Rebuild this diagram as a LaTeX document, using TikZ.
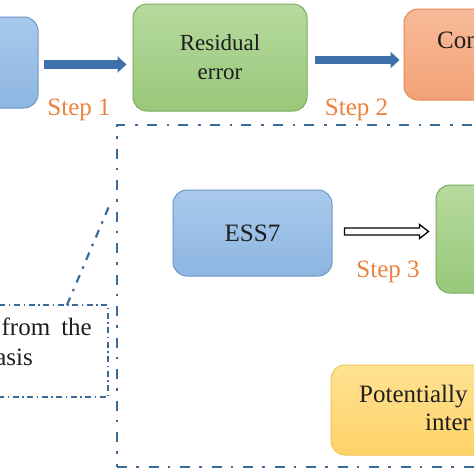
\documentclass[tikz,border=0pt]{standalone}
\usepackage{fontspec}
\setmainfont{Liberation Serif}
\usetikzlibrary{arrows.meta,calc}
\definecolor{txtc}{RGB}{30,30,30}
\definecolor{stepc}{RGB}{236,130,62}
\definecolor{dashc}{RGB}{62,108,152}
\definecolor{bluetop}{RGB}{168,201,236}
\definecolor{bluebot}{RGB}{142,182,226}
\definecolor{blueline}{RGB}{110,150,200}
\definecolor{greentop}{RGB}{182,218,158}
\definecolor{greenbot}{RGB}{152,200,122}
\definecolor{greenline}{RGB}{122,172,92}
\definecolor{orangetop}{RGB}{248,186,152}
\definecolor{orangebot}{RGB}{243,162,118}
\definecolor{orangeline}{RGB}{232,135,85}
\definecolor{yellowtop}{RGB}{255,226,145}
\definecolor{yellowbot}{RGB}{255,210,105}
\definecolor{yellowline}{RGB}{242,195,90}
\definecolor{arrowfill}{RGB}{62,112,172}
\tikzset{
  mybox/.style={rectangle, rounded corners=14pt, line width=1pt, inner sep=0pt,
    font=\rmfamily\fontsize{23}{29}\selectfont, text=txtc, align=center},
  bluebox/.style={mybox, draw=blueline, top color=bluetop, bottom color=bluebot},
  greenbox/.style={mybox, draw=greenline, top color=greentop, bottom color=greenbot},
  orangebox/.style={mybox, draw=orangeline, top color=orangetop, bottom color=orangebot},
  yellowbox/.style={mybox, draw=yellowline, top color=yellowtop, bottom color=yellowbot},
  txt/.style={inner sep=0pt, font=\rmfamily\fontsize{25}{29}\selectfont, text=txtc},
  steplbl/.style={inner sep=0pt, font=\rmfamily\fontsize{25}{29}\selectfont, text=stepc, anchor=base},
  bluearr/.style={draw=arrowfill, line width=8.5pt,
    -{Triangle[length=9pt,width=16pt]}},
  hollowarr/.style={draw=black, line width=1.3pt, fill=white, line join=miter},
  dashmain/.style={draw=dashc, line width=2.4pt,
    dash pattern=on 10pt off 9pt on 2.5pt off 10pt},
  dashlead/.style={draw=dashc, line width=2.2pt,
    dash pattern=on 8pt off 7pt on 2.5pt off 7pt},
  dashsmall/.style={draw=dashc, line width=1.2pt,
    dash pattern=on 6pt off 3.5pt on 1.5pt off 3.5pt},
}
\begin{document}
\begin{tikzpicture}[x=1pt,y=-1pt]
\useasboundingbox (0,0) rectangle (474,474);
\clip (0,0) rectangle (474,474);
\fill[white] (0,0) rectangle (474,474);

% top row
\node[bluebox, minimum width=98pt, minimum height=91pt] (src) at (-11,62.5) {};
\node[greenbox, minimum width=174pt, minimum height=107pt] (res) at (220,57.5) {Residual\\error};
\node[orangebox, minimum width=156pt, minimum height=91pt] (con) at (482,54.5) {};
\node[txt, anchor=base west] (contxt) at (437,48) {Con};

\draw[bluearr, shorten <=5pt, shorten >=6pt] ([yshift=-2pt]src.east) -- ([yshift=-2pt]src.east -| res.west);
\draw[bluearr, shorten <=7pt, shorten >=4pt] ([yshift=-2.5pt]res.east) -- ([yshift=-2.5pt]res.east -| con.west);

\node[steplbl] (s1) at (79,115) {Step 1};
\node[steplbl] (s2) at (356.5,115) {Step 2};

% dashed region
\node[dashmain, rectangle, minimum width=400pt, minimum height=342pt, inner sep=0pt] (region) at (317,296) {};

% middle row
\node[bluebox, minimum width=159pt, minimum height=86pt, font=\rmfamily\fontsize{25}{29}\selectfont] (ess) at (252.5,233) {ESS7};
\node[greenbox, minimum width=174pt, minimum height=108pt] (g2) at (523,239) {};
\draw[hollowarr] let \p1=([xshift=12pt,yshift=1.5pt]ess.east), \p2=([xshift=-7pt]ess.east -| g2.west) in
  (\x1,{\y1+3.5pt}) -- ({\x2-9pt},{\y1+3.5pt}) -- ({\x2-9pt},{\y1+7pt}) -- (\x2,\y1)
  -- ({\x2-9pt},{\y1-7pt}) -- ({\x2-9pt},{\y1-3.5pt}) -- (\x1,{\y1-3.5pt}) -- cycle;
\node[steplbl] (s3) at (388,277) {Step 3};

% callout
\node[dashsmall, rectangle, minimum width=168pt, minimum height=92pt, inner sep=0pt] (co) at (24,351) {};
\node[txt, anchor=base east] (cotxt1) at (92,335) {from\hspace{11pt}the};
\node[txt, anchor=base east] (cotxt2) at (33,365) {asis};
\coordinate (lt) at (67,305);
\coordinate (lh) at (110,204);
\draw[dashlead] (lt) -- (lh);

% yellow box
\node[yellowbox, minimum width=280pt, minimum height=90pt] (pot) at (471,410) {};
\node[txt, anchor=base west] (pot1) at (359,402) {Potentially};
\node[txt, anchor=base west] (pot2) at (425,430) {inter};
\end{tikzpicture}
\end{document}
